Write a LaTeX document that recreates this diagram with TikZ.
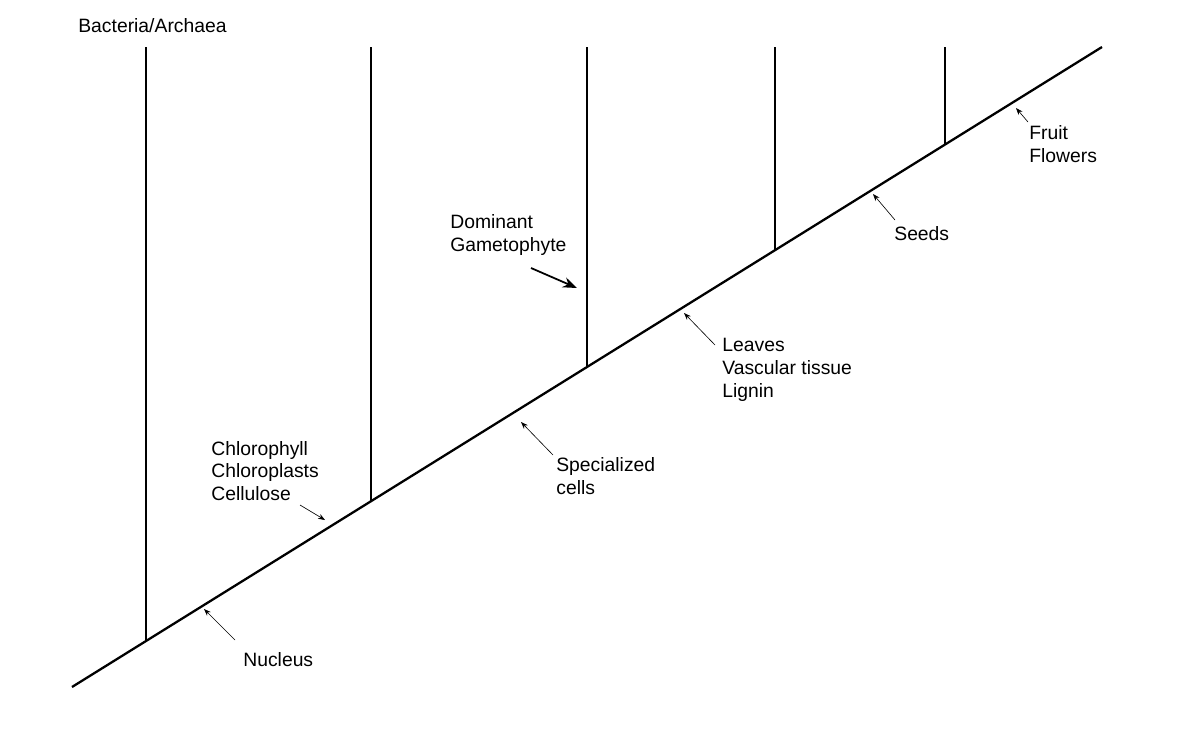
\documentclass[tikz,border=0pt]{standalone}
\usepackage{fontspec}
\setmainfont{Liberation Sans}
\usetikzlibrary{arrows.meta}
\begin{document}
\begin{tikzpicture}[x=0.02cm,y=-0.02cm,
  lbl/.style={font=\fontsize{11}{13}\selectfont,align=left,inner sep=0pt},
  thick line/.style={line width=1.3pt},
  ptr/.style={line width=0.35pt,-{Stealth[length=4pt,width=3pt]}}]
\useasboundingbox (0,0) rectangle (1177,730);
\coordinate (s) at (72,687);
\coordinate (e) at (1102,47);
\draw[thick line] (s) -- (e);
\foreach \x/\b [count=\i] in {146/641,371/501,587/367,775/250,945/145}{
  \coordinate (t\i) at (\x,47);
  \coordinate (b\i) at (\x,\b);
  \draw[thick line] (t\i) -- (b\i);
}
\node[lbl,anchor=west] (bac) at (78,26) {Bacteria/Archaea};
\node[lbl,anchor=west] (nuc) at (243,660) {Nucleus};
\node[lbl,anchor=west] (chl) at (211,471) {Chlorophyll\\Chloroplasts\\Cellulose};
\node[lbl,anchor=west] (spe) at (556,476) {Specialized\\cells};
\node[lbl,anchor=west] (dom) at (450,235) {Dominant\\Gametophyte};
\node[lbl,anchor=west] (lea) at (722,370) {Leaves\\Vascular tissue\\Lignin};
\node[lbl,anchor=west] (see) at (894,234) {Seeds};
\node[lbl,anchor=west] (fru) at (1029,144) {Fruit\\Flowers};
\coordinate (a1) at (204,609); \coordinate (f1) at (235,640);
\coordinate (a2) at (325,520); \coordinate (f2) at (300,505);
\coordinate (a3) at (521,422); \coordinate (f3) at (553,455);
\coordinate (a4) at (684,313); \coordinate (f4) at (715,345);
\coordinate (a5) at (873,194); \coordinate (f5) at (895,220);
\coordinate (a6) at (1016,108); \coordinate (f6) at (1028,122);
\foreach \i in {1,...,6}{\draw[ptr] (f\i) -- (a\i);}
\coordinate (df) at (531,268); \coordinate (da) at (577,288);
\draw[line width=1pt,-{Stealth[length=8pt,width=6pt]}] (df) -- (da);
\end{tikzpicture}
\end{document}
